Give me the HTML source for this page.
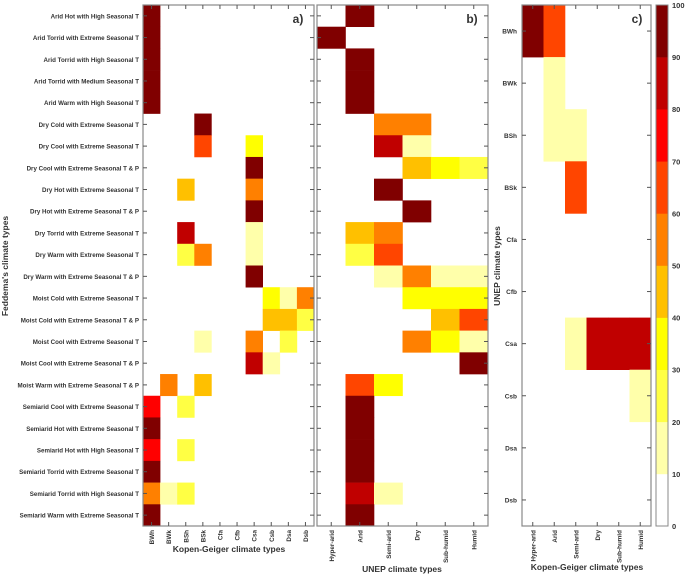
<!DOCTYPE html>
<html><head><meta charset="utf-8"><style>
body{margin:0;background:#fff;width:685px;height:575px;overflow:hidden;font-family:"Liberation Sans",Arial,sans-serif}
svg text{font-family:"Liberation Sans",Arial,sans-serif;fill:#333;font-weight:bold}
</style></head><body>
<svg id="chart" width="685" height="575"></svg>
<script>
const rowsA=["Arid Hot with High Seasonal T","Arid Torrid with Extreme Seasonal T","Arid Torrid with High Seasonal T","Arid Torrid with Medium Seasonal T","Arid Warm with High Seasonal T","Dry Cold with Extreme Seasonal T","Dry Cool with Extreme Seasonal T","Dry Cool with Extreme Seasonal T & P","Dry Hot with Extreme Seasonal T","Dry Hot with Extreme Seasonal T & P","Dry Torrid with Extreme Seasonal T","Dry Warm with Extreme Seasonal T","Dry Warm with Extreme Seasonal T & P","Moist Cold with Extreme Seasonal T","Moist Cold with Extreme Seasonal T & P","Moist Cool with Extreme Seasonal T","Moist Cool with Extreme Seasonal T & P","Moist Warm with Extreme Seasonal T & P","Semiarid Cool with Extreme Seasonal T","Semiarid Hot with Extreme Seasonal T","Semiarid Hot with High Seasonal T","Semiarid Torrid with Extreme Seasonal T","Semiarid Torrid with High Seasonal T","Semiarid Warm with Extreme Seasonal T"];
const kg=["BWh","BWk","BSh","BSk","Cfa","Cfb","Csa","Csb","Dsa","Dsb"];
const unep=["Hyper-arid","Arid","Semi-arid","Dry","Sub-humid","Humid"];
const valsA=[
[100,0,0,0,0,0,0,0,0,0],[100,0,0,0,0,0,0,0,0,0],[100,0,0,0,0,0,0,0,0,0],[100,0,0,0,0,0,0,0,0,0],[100,0,0,0,0,0,0,0,0,0],
[0,0,0,100,0,0,0,0,0,0],[0,0,0,65,0,0,35,0,0,0],[0,0,0,0,0,0,100,0,0,0],[0,0,45,0,0,0,55,0,0,0],[0,0,0,0,0,0,100,0,0,0],
[0,0,85,0,0,0,15,0,0,0],[0,0,25,55,0,0,15,0,0,0],[0,0,0,0,0,0,100,0,0,0],[0,0,0,0,0,0,0,35,15,55],[0,0,0,0,0,0,0,45,45,25],
[0,0,0,15,0,0,55,0,25,0],[0,0,0,0,0,0,85,15,0,0],[0,55,0,45,0,0,0,0,0,0],[75,0,25,0,0,0,0,0,0,0],[100,0,0,0,0,0,0,0,0,0],
[75,0,25,0,0,0,0,0,0,0],[100,0,0,0,0,0,0,0,0,0],[55,15,25,0,0,0,0,0,0,0],[100,0,0,0,0,0,0,0,0,0]];
const valsB=[
[0,100,0,0,0,0],[100,0,0,0,0,0],[0,100,0,0,0,0],[0,100,0,0,0,0],[0,100,0,0,0,0],
[0,0,55,55,0,0],[0,0,85,15,0,0],[0,0,0,45,35,25],[0,0,100,0,0,0],[0,0,0,100,0,0],
[0,45,55,0,0,0],[0,25,65,0,0,0],[0,0,15,55,15,15],[0,0,0,35,35,35],[0,0,0,0,45,65],
[0,0,0,55,35,15],[0,0,0,0,0,100],[0,65,35,0,0,0],[0,100,0,0,0,0],[0,100,0,0,0,0],
[0,100,0,0,0,0],[0,100,0,0,0,0],[0,85,15,0,0,0],[0,100,0,0,0,0]];
const valsC=[
[100,65,0,0,0,0],[0,15,0,0,0,0],[0,15,15,0,0,0],[0,0,65,0,0,0],[0,0,0,0,0,0],
[0,0,0,0,0,0],[0,0,15,85,85,85],[0,0,0,0,0,15],[0,0,0,0,0,0],[0,0,0,0,0,0]];
const cbTicks=[0,10,20,30,40,50,60,70,80,90,100];
const palette=["#ffffff","#ffffaa","#ffff44","#ffff00","#ffc000","#ff8000","#ff4500","#ff0000","#c00000","#800000"];
function color(v){return palette[Math.min(9,Math.floor(v/10))];}
const svg=document.getElementById('chart');const NS="http://www.w3.org/2000/svg";
function el(t,a,p){const e=document.createElementNS(NS,t);for(const k in a)e.setAttribute(k,a[k]);(p||svg).appendChild(e);return e;}
function txt(x,y,s,size,anchor,rot){const e=el('text',{x:x,y:y,'font-size':size,'text-anchor':anchor||'middle'});if(rot)e.setAttribute('transform','rotate('+rot+' '+x+' '+y+')');e.textContent=s;return e;}
function panel(name,x0,x1,y0,y1,vals,cols,nrows){
  const g=el('g',{});
  
  
  const cw=(x1-x0)/cols.length, rh=(y1-y0)/nrows;
  const xs=i=>x0+i*cw, ys=j=>y0+j*rh;
  vals.forEach((row,j)=>row.forEach((v,i)=>{if(v>=10){const r=el('rect',{x:xs(i),y:ys(j),width:cw+0.3,height:rh+0.3,fill:color(v)},g);
    
    }}));
  el('rect',{x:x0,y:y0,width:x1-x0,height:y1-y0,fill:'none',stroke:'#888','stroke-width':1.2},g);
  for(let i=0;i<cols.length;i++){const cx=xs(i)+cw/2;
    el('line',{x1:cx,y1:y0,x2:cx,y2:y0+4,stroke:'#555'},g);el('line',{x1:cx,y1:y1,x2:cx,y2:y1-4,stroke:'#555'},g);
    const t=txt(cx+2.5,y1+4,cols[i],6.3,'end',-90);
    
    }
  for(let j=0;j<nrows;j++){const cy=ys(j)+rh/2;
    el('line',{x1:x0,y1:cy,x2:x0+4,y2:cy,stroke:'#555'},g);el('line',{x1:x1,y1:cy,x2:x1-4,y2:cy,stroke:'#555'},g);}
  return {xs,ys,cw,rh};
}
const A=panel('panel-a',143,314,5,526,valsA,kg,24);
rowsA.forEach((s,j)=>{const t=txt(139,5+j*A.rh+A.rh/2+2.5,s,6.2,'end');
  
  });
const B=panel('panel-b',317,488,5,526,valsB,unep,24);
const C=panel('panel-c',522,651,5,526,valsC,unep,10);
kg.forEach((s,j)=>{const t=txt(517,5+j*C.rh+C.rh/2+2.5,s,6.5,'end');
  
  });
let t;
t=txt(298,23,'a)',12,'middle');
t=txt(472,23,'b)',12,'middle');
t=txt(637,23,'c)',12,'middle');
t=txt(229,552,'Kopen-Geiger climate types',8.5,'middle');
t=txt(402,572,'UNEP climate types',8.5,'middle');
t=txt(587,570,'Kopen-Geiger climate types',8.5,'middle');
t=txt(8,266,"Feddema's climate types",8.5,'middle',-90);
t=txt(500,266,'UNEP climate types',8.5,'middle',-90);
// colorbar
const cb0=526,cb1=5,cbx=656,cbw=12;
const cy=v=>cb0+(cb1-cb0)*v/100;
for(let k=0;k<cbTicks.length-1;k++){const r=el('rect',{x:cbx,y:cy(cbTicks[k+1]),width:cbw,height:cy(cbTicks[k])-cy(cbTicks[k+1])+0.3,fill:color(cbTicks[k])});
  
  }
el('rect',{x:cbx,y:cb1,width:cbw,height:cb0-cb1,fill:'none',stroke:'#888','stroke-width':1});
cbTicks.forEach(v=>{const tt=txt(672,cy(v)+3,String(v),7.5,'start');
  
  });
</script>
</body></html>
